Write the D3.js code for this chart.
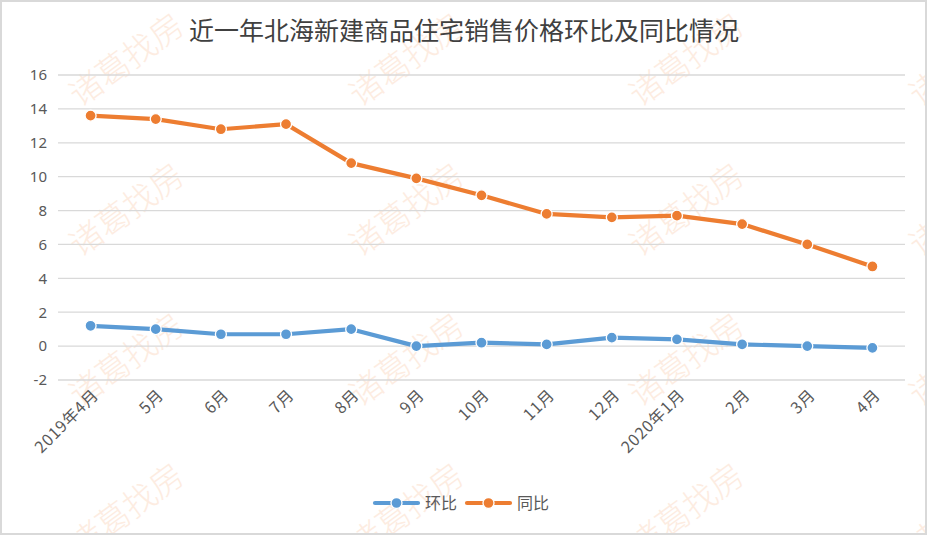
<!DOCTYPE html>
<html>
<head>
<meta charset="utf-8">
<script src="https://cdn.jsdelivr.net/npm/d3@7"></script>
<style>
  body { margin: 0; background: #fff; }
  text { font-family: "Noto Sans CJK SC", "Noto Sans", sans-serif; }
</style>
</head>
<body>
<main></main>
<script>
// data
const months = ['2019年4月','5月','6月','7月','8月','9月','10月','11月','12月','2020年1月','2月','3月','4月']
const huanbi = [1.2, 1.0, 0.7, 0.7, 1.0, 0.0, 0.2, 0.1, 0.5, 0.4, 0.1, 0.0, -0.1]
const tongbi = [13.6, 13.4, 12.8, 13.1, 10.8, 9.9, 8.9, 7.8, 7.6, 7.7, 7.2, 6.0, 4.7]
const yTicks = [-2, 0, 2, 4, 6, 8, 10, 12, 14, 16]
const seriesNames = ['环比', '同比']
const seriesColors = ['#5B9BD5', '#ED7D31']

const size = { width: 929, height: 535 }
const plot = { left: 58, right: 905, top: 75, bottom: 380 }

const svg = d3.select('main')
    .append('svg')
    .attr('width', size.width)
    .attr('height', size.height)

// chart border
svg.append('rect')
    .attr('x', 1).attr('y', 1)
    .attr('width', size.width - 4).attr('height', size.height - 2)
    .attr('fill', '#fff')
    .attr('stroke', '#d9d9d9')
    .attr('stroke-width', 2)

svg.append('clipPath')
    .attr('id', 'inside')
    .append('rect')
    .attr('x', 2).attr('y', 2)
    .attr('width', size.width - 6).attr('height', size.height - 4)

// watermark (cut by the frame on the right, as in the original)
const wm = svg.append('g').attr('id', 'watermark').attr('clip-path', 'url(#inside)')
for (let r = 0; r < 4; r++) {
    for (let c = 0; c < 4; c++) {
        wm.append('text')
            .attr('transform', `translate(${80 + c * 280},${108 + r * 150}) rotate(-36)`)
            .attr('font-size', 33)
            .attr('font-weight', 300)
            .attr('fill', '#fdece1')
            .text('诸葛找房')
    }
}

const x = d3.scaleBand()
    .domain(months)
    .range([plot.left, plot.right])

const y = d3.scaleLinear()
    .domain([-2, 16])
    .range([plot.bottom, plot.top])

// grid lines
svg.append('g')
    .selectAll('line')
    .data(yTicks)
    .enter()
    .append('line')
    .attr('x1', plot.left)
    .attr('x2', plot.right)
    .attr('y1', d => y(d))
    .attr('y2', d => y(d))
    .attr('stroke', '#d9d9d9')
    .attr('stroke-width', 1.3)

// y axis labels
const yAxis = d3.axisLeft(y).tickValues(yTicks).tickFormat(d => String(d)).tickSize(0).tickPadding(11)
svg.append('g')
    .attr('transform', `translate(${plot.left},0)`)
    .call(yAxis)
    .call(g => g.select('.domain').remove())
    .selectAll('text')
    .attr('font-size', 15)
    .attr('fill', '#595959')
    .style('font-family', '"Noto Sans", sans-serif')

// x axis labels, rotated
const xAxis = d3.axisBottom(x).tickSize(0).tickPadding(0)
svg.append('g')
    .attr('transform', `translate(0,${plot.bottom})`)
    .call(xAxis)
    .call(g => g.select('.domain').remove())
    .selectAll('text')
    .attr('font-size', 16)
    .attr('letter-spacing', 0.8)
    .attr('fill', '#595959')
    .attr('text-anchor', 'end')
    .attr('dy', 0)
    .attr('transform', 'translate(9,16) rotate(-45)')

// lines + markers
const allSeries = [huanbi, tongbi]
const line = d3.line()
    .x((d, i) => x(months[i]) + x.bandwidth() / 2)
    .y(d => y(d))

allSeries.forEach((values, s) => {
    svg.append('path')
        .datum(values)
        .attr('d', line)
        .attr('fill', 'none')
        .attr('stroke', seriesColors[s])
        .attr('stroke-width', 4.2)
        .attr('stroke-linejoin', 'round')
        .attr('stroke-linecap', 'round')

    svg.append('g')
        .selectAll('circle')
        .data(values)
        .enter()
        .append('circle')
        .attr('cx', (d, i) => x(months[i]) + x.bandwidth() / 2)
        .attr('cy', d => y(d))
        .attr('r', 5.5)
        .attr('fill', seriesColors[s])
        .attr('stroke', '#fff')
        .attr('stroke-width', 1.3)
})

// title
svg.append('text')
    .attr('x', 464)
    .attr('y', 40)
    .attr('text-anchor', 'middle')
    .attr('font-size', 25)
    .attr('fill', '#404040')
    .text('近一年北海新建商品住宅销售价格环比及同比情况')

// legend
const legend = svg.append('g').attr('id', 'legend')
const legendX = [373, 465]
seriesNames.forEach((name, s) => {
    const g = legend.append('g').attr('transform', `translate(${legendX[s]},503)`)
    g.append('line')
        .attr('x1', 2).attr('x2', 45)
        .attr('stroke', seriesColors[s])
        .attr('stroke-width', 4.2)
        .attr('stroke-linecap', 'round')
    g.append('circle')
        .attr('cx', 23.5)
        .attr('r', 5.5)
        .attr('fill', seriesColors[s])
        .attr('stroke', '#fff')
        .attr('stroke-width', 1.3)
    g.append('text')
        .attr('x', 52)
        .attr('y', 6)
        .attr('font-size', 16)
        .attr('fill', '#595959')
        .text(name)
})
</script>
</body>
</html>
